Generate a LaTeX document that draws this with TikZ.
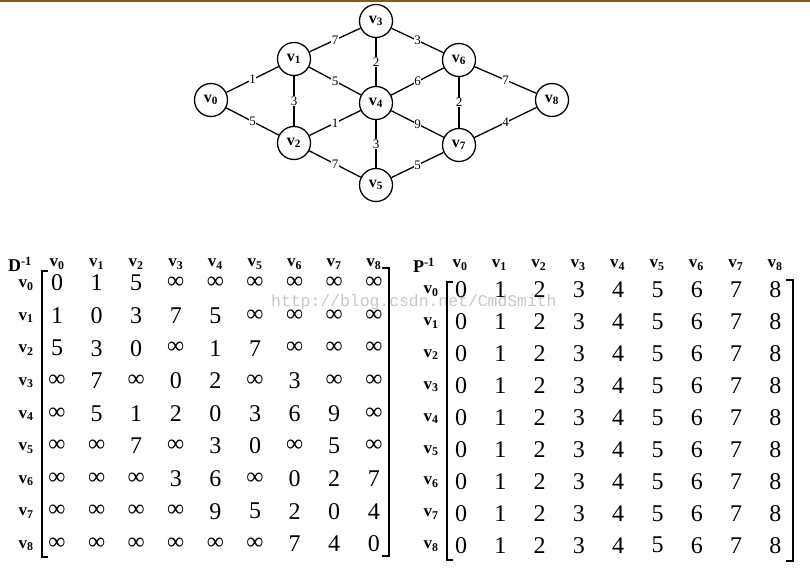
\documentclass[tikz,border=0pt]{standalone}
\usepackage{fontspec}
\setmainfont{Liberation Serif}
\newfontfamily\wmfont{Liberation Mono}
\definecolor{topbrown}{HTML}{7B5A2B}
\definecolor{wmgray}{HTML}{C8C8C0}
\newcommand\vs[1]{v\textsubscript{#1}}
\begin{document}
\begin{tikzpicture}[x=1pt,y=-1pt,
  vtx/.style={circle,draw,line width=1.3pt,minimum size=33pt,inner sep=0pt,font=\fontsize{16}{16}\selectfont\bfseries},
  elab/.style={fill=white,inner sep=0.5pt,font=\fontsize{13}{13}\selectfont},
  edge/.style={line width=1.3pt},
  val/.style={font=\fontsize{24}{24}\selectfont,inner sep=0pt},
  hdr/.style={font=\fontsize{17}{17}\selectfont\bfseries,inner sep=0pt},
  brk/.style={line width=1.4pt}]
\useasboundingbox (0,0) rectangle (810,585);
\fill[white] (0,0) rectangle (810,585);
\draw[line width=2pt,topbrown] (0,1) -- (810,1);
% watermark
\node[wmgray,anchor=west,inner sep=0pt,font=\wmfont\fontsize{16.4}{16.4}\selectfont] (wm) at (271,302) {http://blog.csdn.net/CmdSmith};
% graph
\node[vtx] (v0) at (211,100) {\vs0};
\node[vtx] (v1) at (294,59) {\vs1};
\node[vtx] (v2) at (294,143) {\vs2};
\node[vtx] (v3) at (376,21) {\vs3};
\node[vtx] (v4) at (376,103) {\vs4};
\node[vtx] (v5) at (376,185) {\vs5};
\node[vtx] (v6) at (459,60) {\vs6};
\node[vtx] (v7) at (459,145) {\vs7};
\node[vtx] (v8) at (552,100) {\vs8};
\foreach \a/\b/\w in {v0/v1/1,v0/v2/5,v1/v3/7,v1/v2/3,v1/v4/5,v2/v4/1,v2/v5/7,v3/v4/2,v3/v6/3,v4/v6/6,v4/v7/9,v4/v5/3,v6/v7/2,v6/v8/7,v7/v8/4,v5/v7/5}
  \draw[edge] (\a) -- node[elab] {\w} (\b);
% D matrix
\node[font=\fontsize{18}{18}\selectfont\bfseries,inner sep=0pt] (dlab) at (20,264) {D\textsuperscript{-1}};
\foreach \c in {0,...,8}
  \node[hdr] (dh\c) at ({57+39.6*\c},264) {\vs\c};
\foreach \rowlist [count=\r from 0] in {
  {0,1,5,∞,∞,∞,∞,∞,∞},
  {1,0,3,7,5,∞,∞,∞,∞},
  {5,3,0,∞,1,7,∞,∞,∞},
  {∞,7,∞,0,2,∞,3,∞,∞},
  {∞,5,1,2,0,3,6,9,∞},
  {∞,∞,7,∞,3,0,∞,5,∞},
  {∞,∞,∞,3,6,∞,0,2,7},
  {∞,∞,∞,∞,9,5,2,0,4},
  {∞,∞,∞,∞,∞,∞,7,4,0}} {
  \node[hdr] (dr\r) at (26,{285+32.6*\r}) {\vs\r};
  \foreach \v [count=\c from 0] in \rowlist
    \node[val] (d-\r-\c) at ({57+39.6*\c},{283+32.6*\r}) {\v};
}
\draw[brk] (48,271) -- (42,271) -- (42,557) -- (48,557);
\draw[brk] (382,268) -- (389,268) -- (389,556) -- (382,556);
% P matrix
\node[font=\fontsize{18}{18}\selectfont\bfseries,inner sep=0pt] (plab) at (424,265) {P\textsuperscript{-1}};
\foreach \c in {0,...,8}
  \node[hdr] (ph\c) at ({460+39.4*\c},265) {\vs\c};
\foreach \r in {0,...,8} {
  \node[hdr] (pr\r) at (431,{291+31.9*\r}) {\vs\r};
  \foreach \c in {0,...,8}
    \node[val] (p-\r-\c) at ({461+39.3*\c},{290+31.9*\r}) {\c};
}
\draw[brk] (453,282) -- (447,282) -- (447,560) -- (453,560);
\draw[brk] (786,280) -- (793,280) -- (793,561) -- (786,561);
\end{tikzpicture}
\end{document}
